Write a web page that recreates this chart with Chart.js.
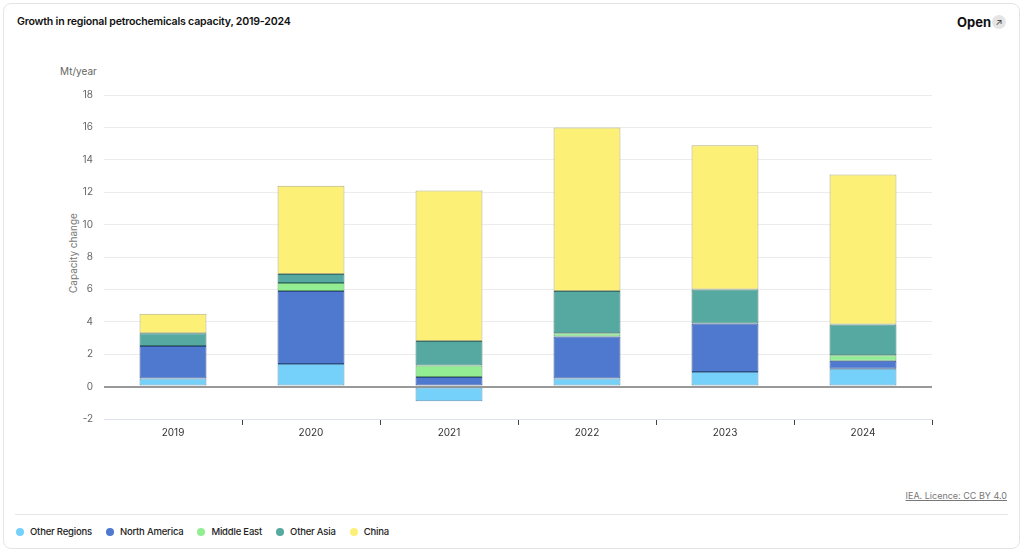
<!DOCTYPE html>
<html>
<head>
<meta charset="utf-8">
<script src="https://cdn.jsdelivr.net/npm/chart.js@4"></script>
<style>
  body { margin: 0; background: #fff; font-family: Inter, "Noto Sans", sans-serif; }
  #card { position: absolute; left: 3px; top: 3px; width: 1015px; height: 544px; border: 1px solid #e4e4e4; border-radius: 8px; }
  #title { position: absolute; left: 17px; top: 15px; font-size: 10.6px; letter-spacing: -0.2px; font-weight: 600; color: #111; }
  #open { position: absolute; left: 957px; top: 14px; font-size: 13px; font-weight: 700; color: #111; }
  #openIcon { position: absolute; left: 992px; top: 15px; width: 14px; height: 14px; border-radius: 7px; background: #e4e4e4; font-size: 9px; line-height: 14px; text-align: center; color: #333; }
  #unit { position: absolute; left: 60px; top: 65px; font-size: 10px; color: #666; }
  #ytitle { position: absolute; left: 73px; top: 253px; font-size: 10px; color: #777; transform: translate(-50%, -50%) rotate(-90deg); white-space: nowrap; }
  #box { position: absolute; left: 0; top: 61px; width: 960px; height: 388px; }
  #credit { position: absolute; right: 17px; top: 490px; font-size: 9px; color: #777; text-decoration: underline; }
  #sep { position: absolute; left: 15px; top: 514px; width: 993px; height: 1px; background: #e6e6e6; }
  #legend { position: absolute; left: 16px; top: 526px; display: flex; font-size: 9.5px; letter-spacing: -0.2px; font-weight: 500; color: #222; }
  #legend span.item { display: flex; align-items: center; margin-right: 14px; }
  #legend span.dot { width: 8px; height: 8px; border-radius: 4px; margin-right: 6px; }
</style>
</head>
<body>
<div id="card"></div>
<div id="title">Growth in regional petrochemicals capacity, 2019-2024</div>
<div id="open">Open</div>
<div id="openIcon">&#8599;</div>
<div id="unit">Mt/year</div>
<div id="ytitle">Capacity change</div>
<div id="box"><canvas id="chart"></canvas></div>
<div id="credit">IEA. Licence: CC BY 4.0</div>
<div id="sep"></div>
<div id="legend"></div>
<script>
// categories and series (Mt/year)
const years = ['2019', '2020', '2021', '2022', '2023', '2024'];
const seriesNames = ['Other Regions', 'North America', 'Middle East', 'Other Asia', 'China'];
const seriesColors = ['#75d1f9', '#4e79cf', '#93ed93', '#55a9a0', '#fcf176'];
const seriesBorders = ['#5b93b0', '#2f4c8a', '#5e9f6a', '#35716b', '#b4ae80'];

const otherRegions = [0.5, 1.4, -0.9, 0.5, 0.9, 1.1];
const northAmerica = [2.0, 4.5, 0.6, 2.6, 3.0, 0.5];
const middleEast   = [0.0, 0.5, 0.7, 0.2, 0.0, 0.33];
const otherAsia    = [0.8, 0.55, 1.52, 2.6, 2.1, 1.9];
const china        = [1.2, 5.45, 9.28, 10.1, 8.9, 9.27];

const yTicks = [-2, 0, 2, 4, 6, 8, 10, 12, 14, 16, 18];

const allSeries = [otherRegions, northAmerica, middleEast, otherAsia, china];

//build legend
const legend = document.getElementById('legend');
seriesNames.forEach(function(name, i){
    const item = document.createElement('span');
    item.className = 'item';
    item.innerHTML = '<span class="dot" style="background:' + seriesColors[i] + '"></span>' + name;
    legend.appendChild(item);
});

const datasets = allSeries.map(function(values, i){
    return {
        label: seriesNames[i],
        data: values,
        backgroundColor: seriesColors[i],
        borderColor: seriesBorders[i],
        borderWidth: 1,
        borderSkipped: false,
        categoryPercentage: 1,
        barPercentage: 0.485
    };
});

const ctx = document.getElementById('chart').getContext('2d');
const chart = new Chart(ctx, {
    type: 'bar',
    data: { labels: years, datasets: datasets },
    options: {
        responsive: true,
        maintainAspectRatio: false,
        animation: false,
        layout: { padding: { top: 34, right: 28, left: 0, bottom: 0 } },
        plugins: { legend: { display: false }, tooltip: { enabled: false } },
        scales: {
            x: {
                stacked: true,
                afterFit: function(scale){ scale.height = 30; },
                grid: {
                    offset: true,
                    drawOnChartArea: false,
                    tickLength: 6,
                    color: function(c){ return c.index === 0 ? 'rgba(0,0,0,0)' : '#444'; }
                },
                border: { color: '#dde2ee' },
                ticks: { color: '#333', font: { family: 'Inter', size: 10 }, padding: 2 }
            },
            y: {
                stacked: true,
                min: -2,
                max: 18,
                afterFit: function(scale){ scale.width = 104; },
                afterBuildTicks: function(scale){ scale.ticks = yTicks.map(function(v){ return { value: v }; }); },
                border: { display: false },
                grid: {
                    drawTicks: false,
                    color: function(c){
                        if (c.tick && c.tick.value === 0) return '#999';
                        if (c.tick && c.tick.value === -2) return '#dde2ee';
                        return '#ececec';
                    },
                    lineWidth: function(c){ return (c.tick && c.tick.value === 0) ? 2 : 1; }
                },
                ticks: { color: '#666', font: { family: 'Inter', size: 10 }, padding: 11 }
            }
        }
    }
});
</script>
</body>
</html>
